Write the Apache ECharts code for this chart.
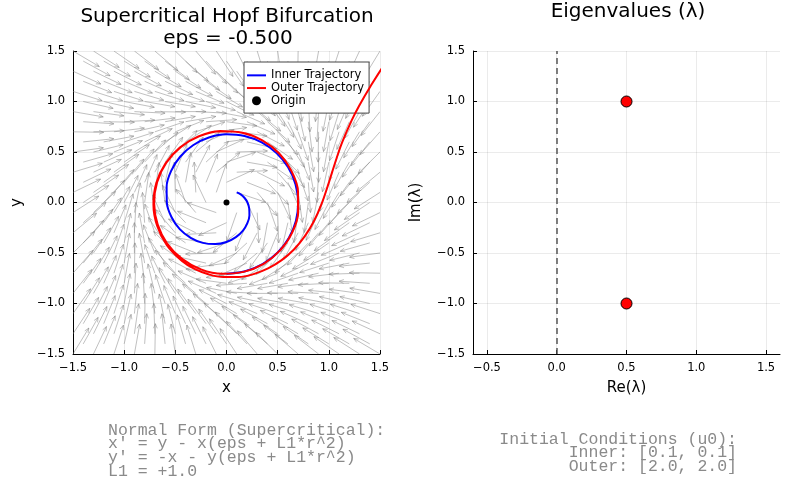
<!DOCTYPE html>
<html>
<head>
<meta charset="utf-8">
<script src="https://cdn.jsdelivr.net/npm/echarts@6/dist/echarts.min.js"></script>
<style>
html,body{margin:0;padding:0;background:#fff;}
#chart{width:800px;height:500px;}
</style>
</head>
<body>
<div id="chart"></div>
<script>
// ---------------- DATA ----------------
// Quiver field, grid A (arrow directions in degrees, read/estimated from the picture)
var quiverX = [-1.5,-1.3,-1.1,-0.9,-0.7,-0.5,-0.3,-0.1,0.1,0.3,0.5,0.7,0.9,1.1,1.3,1.5];
var quiverY = [1.5,1.3,1.1,0.9,0.7,0.5,0.3,0.1,-0.1,-0.3,-0.5,-0.7,-0.9,-1.1,-1.3,-1.5];
var quiverAngles = [
  [-31,-33,-35,-38,-41,-45,-50,-57,-64,-73,-82,-91,-100,-108,-115,-121],
  [-25,-26,-27,-29,-31,-34,-39,-46,-55,-65,-76,-88,-98,-108,-116,-123],
  [-18,-18,-18,-17,-18,-19,-23,-31,-41,-54,-68,-83,-96,-108,-117,-125],
  [-10,-8,-6,-3,-1,0,-3,-11,-24,-40,-58,-77,-93,-107,-119,-128],
  [-1,2,7,13,19,22,19,8,-8,-28,-49,-71,-91,-108,-121,-131],
  [8,14,22,32,41,45,40,25,2,-22,-45,-68,-90,-109,-124,-135],
  [17,25,36,50,62,68,63,40,3,-27,-50,-71,-93,-113,-129,-140],
  [26,35,49,66,82,92,93,71,-19,-50,-65,-82,-101,-121,-136,-147],
  [33,44,59,79,98,115,130,161,-109,-87,-88,-98,-114,-131,-145,-154],
  [40,51,67,87,109,130,153,-177,-140,-117,-112,-118,-130,-144,-155,-163],
  [45,56,71,90,112,135,158,-178,-155,-140,-135,-139,-148,-158,-166,-172],
  [49,59,72,89,109,131,152,172,-172,-161,-158,-161,-167,-173,-178,179],
  [52,61,73,87,103,122,140,156,169,177,180,179,177,174,172,170],
  [55,63,72,84,97,112,126,139,149,157,161,162,163,162,162,162],
  [57,64,72,82,92,104,115,125,134,141,146,149,151,153,154,155],
  [59,65,72,80,89,98,107,116,123,130,135,139,142,145,147,149]
];

// Quiver field, grid B (staggered), null = zero vector at the origin
var quiverX2 = [-1.4,-1.2,-1.0,-0.8,-0.6,-0.4,-0.2,0,0.2,0.4,0.6,0.8,1.0,1.2,1.4];
var quiverY2 = [1.4,1.2,1.0,0.8,0.6,0.4,0.2,0,-0.2,-0.4,-0.6,-0.8,-1.0,-1.2,-1.4];
var quiverAngles2 = [
  [-29,-30,-32,-35,-38,-42,-48,-56,-64,-74,-84,-94,-103,-112,-119],
  [-22,-22,-23,-24,-26,-29,-35,-43,-54,-66,-79,-91,-103,-112,-120],
  [-13,-13,-11,-10,-10,-12,-17,-27,-40,-55,-72,-87,-101,-113,-122],
  [-4,-1,3,7,10,10,4,-8,-24,-43,-64,-83,-100,-114,-125],
  [6,11,18,26,33,33,24,8,-13,-35,-57,-80,-100,-116,-128],
  [16,24,35,47,55,55,43,19,-10,-35,-57,-80,-102,-119,-132],
  [26,36,50,66,77,80,68,25,-22,-47,-66,-86,-107,-125,-138],
  [34,47,63,82,98,109,115,null,-65,-71,-82,-98,-117,-133,-146],
  [42,55,73,94,114,133,158,-155,-112,-100,-103,-114,-130,-144,-154],
  [48,61,78,100,123,145,170,-161,-137,-125,-125,-133,-145,-156,-164],
  [52,64,80,100,123,145,167,-172,-156,-147,-147,-154,-162,-169,-174],
  [55,66,80,97,116,137,156,172,-176,-170,-170,-173,-177,179,176],
  [58,67,79,93,108,125,140,153,163,168,170,170,169,167,167],
  [60,68,77,89,101,114,126,137,145,151,154,156,157,158,158],
  [61,68,77,86,96,106,116,124,132,138,142,145,148,150,151]
];

// Inner trajectory (u0 = [0.1, 0.1])
var innerTrajectory = [
  [0.100,0.100],[0.139,0.080],[0.175,0.047],[0.205,0.000],[0.222,-0.060],[0.224,-0.129],
  [0.204,-0.204],[0.161,-0.278],[0.092,-0.343],[0.000,-0.391],[-0.110,-0.412],[-0.231,-0.400],
  [-0.350,-0.350],[-0.457,-0.264],[-0.538,-0.144],[-0.583,0.000],[-0.585,0.157],[-0.541,0.313],
  [-0.453,0.453],[-0.327,0.567],[-0.172,0.643],[0.000,0.675],[0.176,0.659],[0.344,0.595],
  [0.489,0.489],[0.602,0.348],[0.674,0.181],[0.700,0.000],[0.678,-0.182],[0.609,-0.352],
  [0.498,-0.498],[0.352,-0.610],[0.182,-0.681],[0.000,-0.706]
];

// Outer trajectory (u0 = [2.0, 2.0])
var outerTrajectory = [
  [2.000,2.000],[1.594,1.443],[1.406,1.149],[1.295,0.955],[1.222,0.810],[1.131,0.597],
  [1.075,0.436],[1.033,0.303],[0.997,0.187],[0.929,-0.014],[0.854,-0.186],[0.764,-0.336],
  [0.659,-0.465],[0.539,-0.571],[0.406,-0.653],[0.264,-0.709],[0.116,-0.738],[-0.032,-0.738],
  [-0.177,-0.711],[-0.313,-0.658],[-0.435,-0.579],[-0.583,-0.422],[-0.678,-0.230],[-0.714,-0.019],
  [-0.686,0.192],[-0.597,0.385],[-0.456,0.544],[-0.275,0.654],[-0.069,0.705],[0.142,0.694],
  [0.341,0.621],[0.509,0.492],[0.631,0.320],[0.697,0.119],[0.701,-0.093],[0.643,-0.296],
  [0.526,-0.472],[0.363,-0.607],[0.167,-0.687],[-0.043,-0.706],[-0.250,-0.662],[-0.434,-0.558],
  [-0.580,-0.406],[-0.673,-0.216],[-0.707,-0.007],[-0.678,0.202],[-0.588,0.393],[-0.445,0.550],
  [-0.263,0.657],[-0.057,0.705],[0.153,0.690],[0.350,0.614],[0.517,0.483],[0.636,0.309],
  [0.699,0.107],[0.699,-0.105],[0.637,-0.307]
];

var originPoint = [[0, 0]];

// Eigenvalues
var eigRe = [0.5, 0.5];
var eigIm = [1.0, -1.0];
var stabilityLineX = [0];

// Axis ticks
var eigXTicks = [-0.5, 0.0, 0.5, 1.0, 1.5];

// Texts
var leftTitle = 'Supercritical Hopf Bifurcation';
var leftSubtitle = 'eps = -0.500';
var rightTitle = 'Eigenvalues (\u03bb)';
var normalFormLines = ['Normal Form (Supercritical):', "x' = y - x(eps + L1*r^2)", "y' = -x - y(eps + L1*r^2)", 'L1 = +1.0'];
var initCondLines = ['Initial Conditions (u0):', 'Inner: [0.1, 0.1]', 'Outer: [2.0, 2.0]'];

// ---------------- BUILD ----------------
var quiverData = [];
function addGrid(xs, ys, angs) {
  for (var r = 0; r < ys.length; r++) {
    for (var c = 0; c < xs.length; c++) {
      if (angs[r][c] !== null) quiverData.push([xs[c], ys[r], angs[r][c]]);
    }
  }
}
addGrid(quiverX, quiverY, quiverAngles);
addGrid(quiverX2, quiverY2, quiverAngles2);
var eigData = eigRe.map(function (v, i) { return [v, eigIm[i]]; });

var ARROW_LEN = 0.3;
var ARROW_COLOR = 'rgba(130,130,130,0.5)';
function renderArrow(params, api) {
  var x = api.value(0), y = api.value(1), a = api.value(2) * Math.PI / 180;
  var p0 = api.coord([x, y]);
  var p1 = api.coord([x + ARROW_LEN * Math.cos(a), y + ARROW_LEN * Math.sin(a)]);
  var pa = Math.atan2(p1[1] - p0[1], p1[0] - p0[0]);
  var h = 5, s = 0.4;
  var h1 = [p1[0] - h * Math.cos(pa - s), p1[1] - h * Math.sin(pa - s)];
  var h2 = [p1[0] - h * Math.cos(pa + s), p1[1] - h * Math.sin(pa + s)];
  return {
    type: 'group',
    children: [
      { type: 'line', shape: { x1: p0[0], y1: p0[1], x2: p1[0], y2: p1[1] }, style: { stroke: ARROW_COLOR, lineWidth: 1 } },
      { type: 'polyline', shape: { points: [h1, p1, h2] }, style: { stroke: ARROW_COLOR, fill: null, lineWidth: 1 } }
    ]
  };
}

function fmt(v) {
  return (v < 0 ? '\u2212' : '') + Math.abs(v).toFixed(1);
}

var FONT = 'DejaVu Sans';
var MONO = 'Liberation Mono';
var gridLine = { show: true, lineStyle: { color: 'rgba(0,0,0,0.08)', width: 1 } };
var axisLine = { show: true, onZero: false, lineStyle: { color: '#000', width: 1 } };
var axisTick = { show: true, inside: true, length: 4, lineStyle: { color: '#000' } };
var labelStyle = { fontFamily: FONT, fontSize: 11.5, color: '#000', margin: 8, formatter: fmt };
var nameStyle = { fontFamily: FONT, fontSize: 15, color: '#000' };

var LINE_ICON = 'path://M0,0 L19,0 L19,2 L0,2 Z';

var option = {
  animation: false,
  backgroundColor: '#fff',
  grid: [
    { left: 73, top: 51, width: 307, height: 303, containLabel: false },
    { left: 473, top: 51, width: 307, height: 303, containLabel: false }
  ],
  xAxis: [
    { gridIndex: 0, type: 'value', min: -1.5, max: 1.5, interval: 0.5,
      name: 'x', nameLocation: 'middle', nameGap: 27, nameTextStyle: nameStyle,
      axisLine: axisLine, axisTick: axisTick, axisLabel: labelStyle, splitLine: gridLine },
    { gridIndex: 1, type: 'value', min: -0.6, max: 1.6,
      name: 'Re(\u03bb)', nameLocation: 'middle', nameGap: 27, nameTextStyle: nameStyle,
      axisLine: axisLine,
      axisTick: Object.assign({}, axisTick, { customValues: eigXTicks }),
      axisLabel: Object.assign({}, labelStyle, { customValues: eigXTicks }),
      splitLine: gridLine }
  ],
  yAxis: [
    { gridIndex: 0, type: 'value', min: -1.5, max: 1.5, interval: 0.5,
      name: 'y', nameLocation: 'middle', nameGap: 48, nameTextStyle: nameStyle,
      axisLine: axisLine, axisTick: axisTick, axisLabel: labelStyle, splitLine: gridLine },
    { gridIndex: 1, type: 'value', min: -1.5, max: 1.5, interval: 0.5,
      name: 'Im(\u03bb)', nameLocation: 'middle', nameGap: 49, nameTextStyle: nameStyle,
      axisLine: axisLine, axisTick: axisTick, axisLabel: labelStyle, splitLine: gridLine }
  ],
  legend: {
    left: 244, top: 62, orient: 'vertical', selectedMode: false,
    padding: [7, 5, 6, 3], itemGap: 0, itemWidth: 19, itemHeight: 9,
    backgroundColor: '#fff', borderColor: '#444', borderWidth: 1,
    textStyle: { fontFamily: FONT, fontSize: 11.5, color: '#000', lineHeight: 12.7 },
    data: [
      { name: 'Inner Trajectory', icon: LINE_ICON, itemStyle: { color: '#0000ff', borderWidth: 0 } },
      { name: 'Outer Trajectory', icon: LINE_ICON, itemStyle: { color: '#ff0000', borderWidth: 0 } },
      { name: 'Origin', icon: 'circle', itemStyle: { color: '#000', borderWidth: 0 } }
    ]
  },
  series: [
    { name: 'field', type: 'custom', xAxisIndex: 0, yAxisIndex: 0, clip: true, silent: true,
      renderItem: renderArrow, encode: { x: 0, y: 1 }, data: quiverData, z: 1 },
    { name: 'Inner Trajectory', type: 'line', xAxisIndex: 0, yAxisIndex: 0, data: innerTrajectory,
      showSymbol: false, symbol: 'none', clip: true, color: '#0000ff', smooth: 0.35,
      lineStyle: { color: '#0000ff', width: 2 }, z: 3 },
    { name: 'Outer Trajectory', type: 'line', xAxisIndex: 0, yAxisIndex: 0, data: outerTrajectory,
      showSymbol: false, symbol: 'none', clip: true, color: '#ff0000', smooth: 0.35,
      lineStyle: { color: '#ff0000', width: 2 }, z: 4 },
    { name: 'Origin', type: 'scatter', xAxisIndex: 0, yAxisIndex: 0, data: originPoint,
      symbol: 'circle', symbolSize: 6, itemStyle: { color: '#000', opacity: 1 }, z: 5 },
    { name: 'Eigenvalues', type: 'scatter', xAxisIndex: 1, yAxisIndex: 1, data: eigData,
      symbol: 'circle', symbolSize: 11, itemStyle: { color: '#ff0000', borderColor: '#000', borderWidth: 1, opacity: 1 }, z: 5,
      markLine: { silent: true, symbol: ['none', 'none'], label: { show: false },
        lineStyle: { color: '#555', width: 1.5, type: [6, 4] },
        data: stabilityLineX.map(function (v) { return { xAxis: v }; }) } }
  ],
  graphic: [
    { type: 'text', x: 227, y: 17, silent: true,
      style: { text: leftTitle, fontFamily: FONT, fontSize: 20, fill: '#000', align: 'center', verticalAlign: 'middle', textAlign: 'center', textVerticalAlign: 'middle' } },
    { type: 'text', x: 228, y: 39, silent: true,
      style: { text: leftSubtitle, fontFamily: FONT, fontSize: 20, fill: '#000', align: 'center', verticalAlign: 'middle', textAlign: 'center', textVerticalAlign: 'middle' } },
    { type: 'text', x: 628, y: 12, silent: true,
      style: { text: rightTitle, fontFamily: FONT, fontSize: 20, fill: '#000', align: 'center', verticalAlign: 'middle', textAlign: 'center', textVerticalAlign: 'middle' } },
    { type: 'text', x: 108, y: 423.5, silent: true,
      style: { text: normalFormLines.join('\n'), fontFamily: MONO, fontSize: 16.5, lineHeight: 13.7, fill: '#8a8a8a', align: 'left', verticalAlign: 'top', textAlign: 'left', textVerticalAlign: 'top' } },
    { type: 'text', x: 737, y: 433, silent: true,
      style: { text: initCondLines.join('\n'), fontFamily: MONO, fontSize: 16.5, lineHeight: 13.4, fill: '#8a8a8a', align: 'right', verticalAlign: 'top', textAlign: 'right', textVerticalAlign: 'top' } }
  ]
};

var chart = echarts.init(document.getElementById('chart'), null, { renderer: 'canvas' });
chart.setOption(option);
</script>
</body>
</html>
